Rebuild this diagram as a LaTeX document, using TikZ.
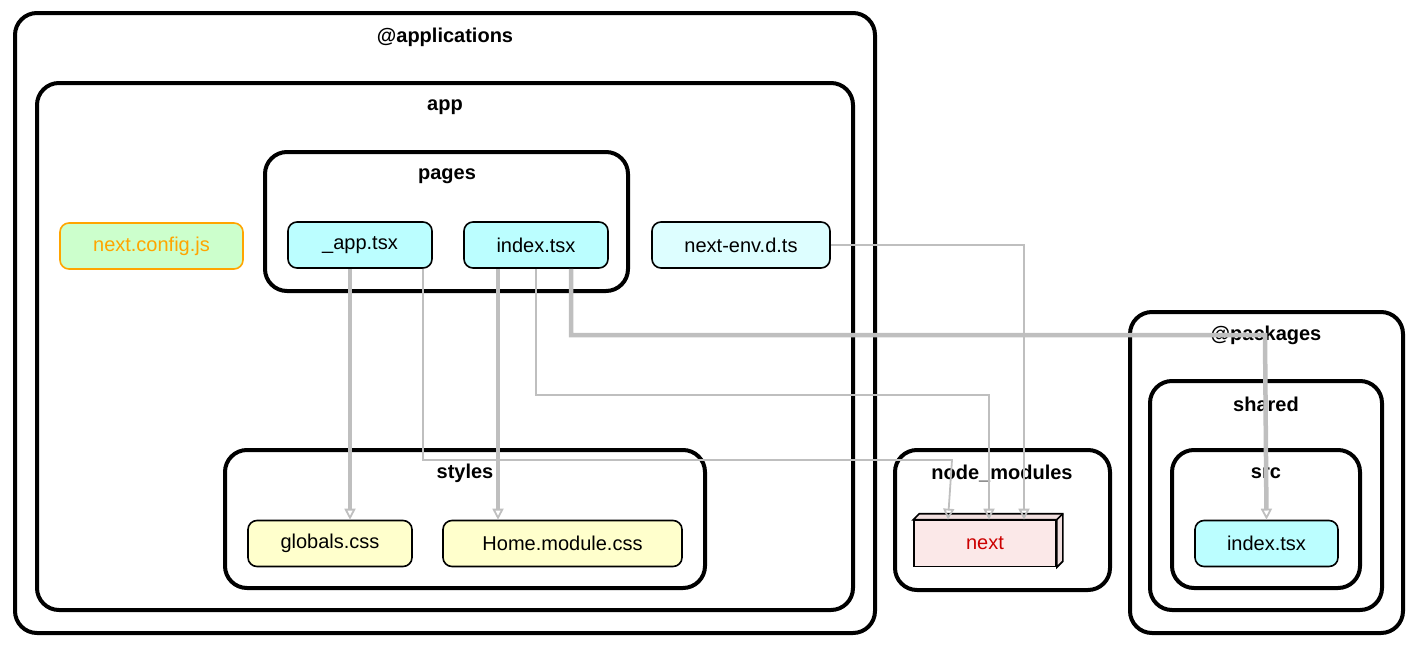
\documentclass[tikz,border=0pt]{standalone}
\usepackage{fontspec}
\setmainfont{Liberation Sans}
\usetikzlibrary{arrows.meta}
\definecolor{tsxfill}{HTML}{BBFEFF}
\definecolor{dtsfill}{HTML}{DDFEFF}
\definecolor{cssfill}{HTML}{FFFFCC}
\definecolor{cfgfill}{HTML}{CCFFCC}
\definecolor{modfill}{HTML}{FBE8E8}
\definecolor{modtext}{HTML}{CC0000}
\definecolor{cfgline}{HTML}{FFA500}
\tikzset{
    %Define style for folders
    folder/.style={
           draw=black, line width=4pt,
           rounded corners=22pt},
    folderlabel/.style={
           font=\fontsize{20}{24}\selectfont\bfseries},
    %Define style for files
    file/.style={
           rectangle,
           rounded corners=9pt,
           draw=black, line width=1.6pt,
           minimum height=46pt,
           font=\fontsize{20}{24}\selectfont,
           text centered},
    tsx/.style={file, fill=tsxfill},
    dts/.style={file, fill=dtsfill},
    css/.style={file, fill=cssfill},
    cfg/.style={file, fill=cfgfill, draw=cfgline, text=cfgline},
    module/.style={rectangle, draw=black, line width=1.6pt, fill=modfill,
           text=modtext, minimum height=46pt,
           font=\fontsize{20}{24}\selectfont},
    % Define arrow style
    dep/.style={
           draw=black!25, line width=1.8pt,
           -{Triangle[open,length=11pt,width=11pt]}},
    heavy/.style={dep, line width=4.5pt,
           -{Triangle[open,length=11pt,width=11pt,line width=1.8pt]}}
}
\begin{document}
\begin{tikzpicture}[x=1pt,y=-1pt]
\useasboundingbox (0,0) rectangle (1422,656);
 %folders
\draw[folder] (15,13) rectangle (875,633);
\node[folderlabel] (lapps) at (445,37) {@applications};
\draw[folder] (37,83) rectangle (853,610);
\node[folderlabel] (lapp) at (445,107) {app};
\draw[folder] (265,152) rectangle (628,291);
\node[folderlabel] (lpages) at (447,176) {pages};
\draw[folder] (225,450) rectangle (705,588);
\node[folderlabel] (lstyles) at (465,473) {styles};
\draw[folder] (895,450) rectangle (1110,590);
\node[folderlabel] (lmods) at (1002,473) {node\_modules};
\draw[folder] (1130,312) rectangle (1403,633);
\node[folderlabel] (lpkgs) at (1266,335) {@packages};
\draw[folder] (1150,381) rectangle (1382,610);
\node[folderlabel] (lshared) at (1266,404) {shared};
\draw[folder] (1172,450) rectangle (1360,588);
\node[folderlabel] (lsrc) at (1266,473) {src};
 %files
\node[cfg, minimum width=183pt] (cfg) at (151.5,246) {next.config.js};
\node[tsx, minimum width=144pt] (appt) at (360,245) {\_app.tsx};
\node[tsx, minimum width=144pt] (idx) at (536,245) {index.tsx};
\node[dts, minimum width=178pt] (env) at (741,245) {next-env.d.ts};
\node[css, minimum width=164pt] (glob) at (330,543.5) {globals.css};
\node[css, minimum width=239pt] (home) at (562.5,543.5) {Home.module.css};
\node[module, minimum width=142pt] (next) at (985,543.5) {next};
\draw[line width=1.6pt, fill=modfill!80!black!20!modfill]
  (next.north west) -- ++(6,-6) -- ([shift={(6,-6)}]next.north east)
  -- ([shift={(6,-6)}]next.south east) -- (next.south east) -- (next.north east) -- cycle;
\draw[line width=1.6pt] (next.north east) -- ++(6,-6);
\node[tsx, minimum width=143pt] (sidx) at (1266.5,543.5) {index.tsx};
 %dependencies
\draw[heavy] ([xshift=-10pt]appt.south) -- ([xshift=-10pt]appt.south |- glob.north);
\draw[dep] ([xshift=63pt]appt.south) |- (952,460) -- ([xshift=-37pt]next.north);
\draw[heavy] ([xshift=-38pt]idx.south) -- ([xshift=-38pt]idx.south |- home.north);
\draw[dep] (idx.south) |- (989,395) -- ([xshift=4pt]next.north);
\draw[heavy] ([xshift=35pt]idx.south) |- (1265,335) -- (sidx.north);
\draw[dep] (env.east) -| ([xshift=39pt]next.north);
\end{tikzpicture}
\end{document}
